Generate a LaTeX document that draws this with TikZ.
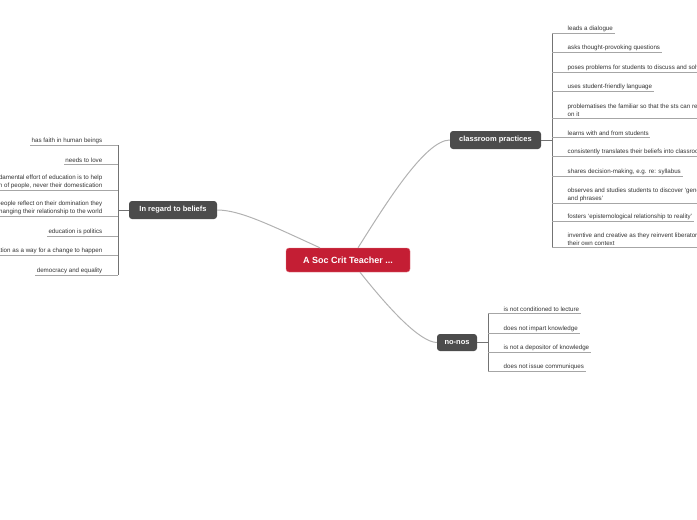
\documentclass[tikz,border=0pt]{standalone}
\usepackage{fontspec}
\setmainfont{Liberation Sans}
\begin{document}
\begin{tikzpicture}[x=1pt,y=-1pt,
  leaf/.style={font=\fontsize{6.2}{8}\selectfont,text=black!80,inner sep=1.5pt,align=left},
  leafr/.style={leaf,align=right},
  uline/.style={draw=black!35,line width=0.6pt},
  vline/.style={draw=black!55,line width=0.7pt},
  main/.style={rounded corners=3pt,fill=black!70,text=white,font=\fontsize{7.5}{9}\selectfont\bfseries,inner xsep=4pt,inner ysep=0pt,minimum height=18pt},
  conn/.style={draw=black!30,line width=1pt}]
\useasboundingbox (0,0) rectangle (697,520);
\clip (0,0) rectangle (697,520);
\node[rounded corners=3pt,fill={rgb,255:red,196;green,30;blue,52},draw={rgb,255:red,230;green,120;blue,130},text=white,font=\fontsize{9}{10}\selectfont\bfseries,minimum width=124pt,minimum height=24pt,inner sep=0pt] (c) at (348,260) {A Soc Crit Teacher ...};
\node[main,minimum width=91pt] (cp) at (495.5,140) {classroom practices};
\node[main,minimum width=88pt] (b) at (173,210) {In regard to beliefs};
\node[main,minimum width=40pt,minimum height=17pt] (n) at (457,342.5) {no-nos};
\path (c.north) ++(10,0) coordinate (c1);
\draw[conn] (c1) .. controls (385,205) and (425,140) .. (cp.west);
\path (c.north) ++(-28,0) coordinate (c2);
\draw[conn] (c2) .. controls (270,225) and (240,210) .. (b.east);
\path (c.south) ++(12,0) coordinate (c3);
\draw[conn] (c3) .. controls (390,310) and (420,342) .. (n.west);
% classroom practices
\draw[vline] (cp.east) -- (552,140);
\draw[vline] (552,33) -- (552,247);
\foreach \i/\y/\t in {1/33/leads a dialogue,2/52/asks thought-provoking questions,3/72/poses problems for students to discuss and solve,4/91/uses student-friendly language,5/118/{problematises the familiar so that the sts can reflect\\on it},6/137/learns with and from students,7/156/consistently translates their beliefs into classroom practice,8/176/{shares decision-making, e.g. re: syllabus},9/203/{observes and studies students to discover `generative words\\and phrases'},10/221/fosters `epistemological relationship to reality',11/247/{inventive and creative as they reinvent liberatory education in\\their own context}}{
  \node[leaf,anchor=south west] (r\i) at (566,\y) {\t};
  \draw[uline] (552,\y) -- (r\i.south east);
}
% beliefs
\draw[vline] (b.west) -- (118,210);
\draw[vline] (118,145) -- (118,275);
\foreach \i/\y/\t in {1/145/has faith in human beings,2/164/needs to love,3/190/{the fundamental effort of education is to help\\the liberation of people, never their domestication},4/216/{as people reflect on their domination they\\begin changing their relationship to the world},5/236/education is politics,6/255/sees education as a way for a change to happen,7/275/democracy and equality}{
  \node[leafr,anchor=south east] (l\i) at (104,\y) {\t};
  \draw[uline] (118,\y) -- (l\i.south west);
}
% no-nos
\draw[vline] (n.east) -- (488,342.5);
\draw[vline] (488,313) -- (488,371);
\foreach \i/\y/\t in {1/313/is not conditioned to lecture,2/333/does not impart knowledge,3/352/is not a depositor of knowledge,4/371/does not issue communiques}{
  \node[leaf,anchor=south west] (n\i) at (502,\y) {\t};
  \draw[uline] (488,\y) -- (n\i.south east);
}
\end{tikzpicture}
\end{document}
